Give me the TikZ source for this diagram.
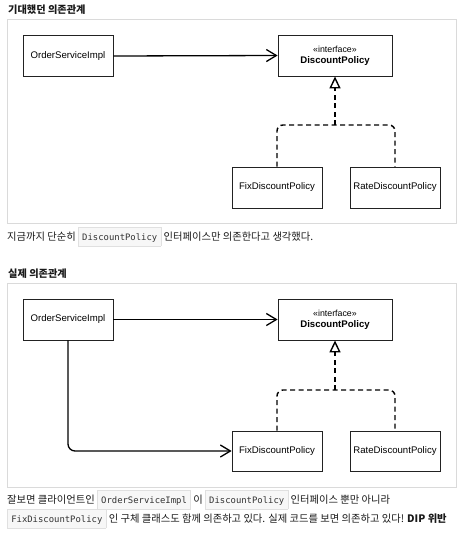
\documentclass[tikz,border=0pt]{standalone}
\usepackage{fontspec}
\setmainfont{Noto Sans CJK KR}
\newfontfamily\diafont{Liberation Sans}
\newfontfamily\codefont{DejaVu Sans Mono}
\usetikzlibrary{arrows.meta}
\definecolor{framegray}{HTML}{DADADA}
\definecolor{codebg}{HTML}{F7F7F7}
\definecolor{codeborder}{HTML}{E0E0E0}
\definecolor{codetext}{HTML}{333333}
\definecolor{boxline}{HTML}{222222}
\definecolor{bodytext}{HTML}{1A1A1A}
\newcommand\code[1]{{\setlength\fboxsep{0pt}\setlength\fboxrule{0.6pt}\fcolorbox{codeborder}{codebg}{\rule[-5.5pt]{0pt}{18pt}\hspace{3.5pt}{\codefont\fontsize{8.9}{11}\selectfont\color{codetext}#1}\hspace{3.5pt}}}}
\begin{document}
\begin{tikzpicture}[x=1pt,y=-1pt,
  classbox/.style={draw=boxline, line width=0.8pt, fill=white, minimum width=90pt, minimum height=41pt, inner sep=0pt, font=\diafont\fontsize{9.6}{12}\selectfont, align=center},
  ifacebox/.style={classbox, minimum width=114pt},
  frame/.style={draw=framegray, line width=0.9pt},
  title/.style={anchor=base west, inner sep=0pt, text=bodytext, font=\bfseries\fontsize{10.2}{12}\selectfont},
  para/.style={anchor=base west, inner sep=0pt, text=bodytext, font=\fontsize{10.3}{12}\selectfont},
  dep/.style={line width=1.3pt, -{Straight Barb[length=10pt,width=12pt,line width=1.3pt]}},
  real/.style={line width=1.4pt, dash pattern=on 5pt off 3.5pt},
  realhead/.style={real, -{Triangle[open,length=12pt,width=11pt,line width=1.4pt]}}
]
\useasboundingbox (0,0) rectangle (474,533);
\fill[white] (0,0) rectangle (474,533);

% ---------- top section ----------
\node[title] (t1) at (8,13.8) {기대했던 의존관계};
\draw[frame] (7,19) rectangle (456,223.5);
\node[classbox] (osi1) at (68,56) {OrderServiceImpl};
\node[ifacebox] (dp1) at (335,55.5) {{\fontsize{8.8}{12}\selectfont «interface»}\\[-1pt]\textbf{DiscountPolicy}};
\node[classbox] (fix1) at (277,187.5) {FixDiscountPolicy};
\node[classbox] (rate1) at (395,187.5) {RateDiscountPolicy};
\coordinate (j1) at (335,125);
\draw[dep] (osi1.east) -- (dp1.west);
\draw[real, rounded corners=6pt] (fix1.north) |- (j1) -| (rate1.north);
\draw[realhead] (j1) -- (dp1.south);
\node[para] (p1) at (7,240) {지금까지 단순히 \code{DiscountPolicy} 인터페이스만 의존한다고 생각했다.};

% ---------- bottom section ----------
\node[title] (t2) at (8,277) {실제 의존관계};
\draw[frame] (7,283) rectangle (456,487);
\node[classbox] (osi2) at (68,319.5) {OrderServiceImpl};
\node[ifacebox] (dp2) at (335,319.5) {{\fontsize{8.8}{12}\selectfont «interface»}\\[-1pt]\textbf{DiscountPolicy}};
\node[classbox, minimum height=40pt] (fix2) at (277,451) {FixDiscountPolicy};
\node[classbox, minimum height=40pt] (rate2) at (395,451) {RateDiscountPolicy};
\coordinate (j2) at (335,390);
\draw[dep] (osi2.east) -- (dp2.west);
\draw[dep, rounded corners=7pt] (osi2.south) |- (fix2.west);
\draw[real, rounded corners=6pt] (fix2.north) |- (j2) -| (rate2.north);
\draw[realhead] (j2) -- (dp2.south);
\node[para] (p2) at (7,503) {잘보면 클라이언트인 \code{OrderServiceImpl} 이 \code{DiscountPolicy} 인터페이스 뿐만 아니라};
\node[para] (p3) at (7,522) {\code{FixDiscountPolicy} 인 구체 클래스도 함께 의존하고 있다. 실제 코드를 보면 의존하고 있다! \textbf{DIP 위반}};
\end{tikzpicture}
\end{document}
